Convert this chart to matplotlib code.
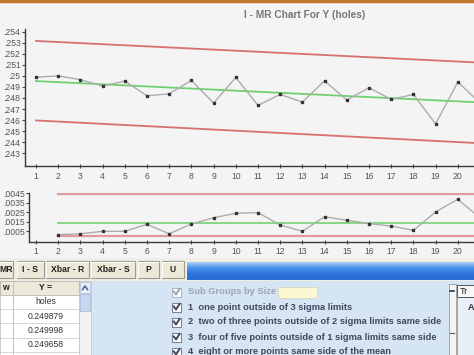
import matplotlib
matplotlib.use('Agg')
import matplotlib.pyplot as plt
import numpy as np
from matplotlib.patches import Rectangle
from matplotlib.ticker import FuncFormatter, FixedLocator
from matplotlib.colors import LinearSegmentedColormap

# ---------------- data ----------------
title = "I - MR Chart For Y (holes)"
samples = list(range(1, 22))
i_values = [0.249879, 0.249998, 0.249658, 0.24908, 0.24953, 0.24820, 0.24838,
            0.24959, 0.24754, 0.24986, 0.24733, 0.24832, 0.24763, 0.24956,
            0.24781, 0.24893, 0.24787, 0.24832, 0.24566, 0.24944, 0.24756]
mr_samples = list(range(2, 22))
mr_values = [0.00011, 0.00021, 0.00047, 0.00047, 0.00121, 0.00021, 0.00124,
             0.00191, 0.00238, 0.00245, 0.00114, 0.00047, 0.00202, 0.00164,
             0.00128, 0.00103, 0.00057, 0.00252, 0.00387, 0.00188]
i_limit_x = [1, 21]
i_ucl = [0.25316, 0.25120]
i_cl = [0.24953, 0.24760]
i_lcl = [0.24597, 0.24391]
mr_limit_x = [2, 21]
mr_ucl = [0.00446, 0.00446]
mr_cl = [0.00138, 0.00138]
mr_lcl = [0.0, 0.0]
i_yticks = [0.243, 0.244, 0.245, 0.246, 0.247, 0.248, 0.249, 0.25, 0.251, 0.252, 0.253, 0.254]
mr_yticks = [0.0005, 0.0015, 0.0025, 0.0035, 0.0045]
xticks = list(range(1, 21))

tab_labels = ["MR", "I - S", "Xbar - R", "Xbar - S", "P", "U"]
table_header = ["w", "Y ="]
table_rows = ["holes", "0.249879", "0.249998", "0.249658"]
rule_labels = ["Sub Groups by Size",
               "1  one point outside of 3 sigma limits",
               "2  two of three points outside of 2 sigma limits same side",
               "3  four of five points outside of 1 sigma limits same side",
               "4  eight or more points same side of the mean"]

# ---------------- figure ----------------
W, H = 474, 355
fig = plt.figure(figsize=(W / 100, H / 100), dpi=100)
FONT = 'Liberation Sans'

bg = fig.add_axes([0, 0, 1, 1], zorder=-1)
bg.set_xlim(0, W)
bg.set_ylim(H, 0)
bg.axis('off')


def rect(x0, y0, x1, y1, fc, ec='none', lw=0, z=1):
    bg.add_patch(Rectangle((x0, y0), x1 - x0, y1 - y0, facecolor=fc,
                           edgecolor=ec, linewidth=lw, zorder=z))


def txt(x, y, s, size=6, color='#333333', weight='normal', ha='left', z=5):
    bg.text(x, y, s, fontsize=size, color=color, fontweight=weight, ha=ha,
            va='center', family=FONT, zorder=z)


# chart background and top bar
rect(0, 0, W, 258, '#f4f4f4')
rect(0, 0, W, 3.2, '#c27a2c')
rect(0, 3.2, W, 4.5, '#ead8c4')

# title
txt(304.5, 15, title, size=7.3, color='#777777', weight='bold', ha='center')


def px_axes(x0, y0, x1, y1):
    return fig.add_axes([x0 / W, 1 - y1 / H, (x1 - x0) / W, (y1 - y0) / H])


fmt = FuncFormatter(lambda v, p: ('%g' % v).lstrip('0'))


def style(ax):
    ax.set_facecolor('none')
    for s in ['top', 'right']:
        ax.spines[s].set_visible(False)
    for s in ['left', 'bottom']:
        ax.spines[s].set_color('#3a3a3a')
        ax.spines[s].set_linewidth(1.0)
    ax.tick_params(axis='both', labelsize=6.2, colors='#444444', labelcolor='#555555',
                   length=2.2, width=0.8, pad=1)
    ax.tick_params(axis='x', direction='inout', length=3, pad=2.5)
    for lab in ax.get_xticklabels() + ax.get_yticklabels():
        lab.set_family(FONT)


# ----- I chart -----
ax1 = px_axes(25, 29, 474, 166)
ax1.plot(i_limit_x, i_ucl, color='#d77070', lw=1.3)
ax1.plot(i_limit_x, i_lcl, color='#d77070', lw=1.3)
ax1.plot(i_limit_x, i_cl, color='#6fd06f', lw=1.3)
ax1.plot(samples, i_values, color='#acacac', lw=1.0, marker='s', ms=2.0,
         mfc='#333333', mec='#333333')
ax1.set_xlim(0.505, 20.73)
ax1.set_ylim(0.24185, 0.25424)
ax1.yaxis.set_major_locator(FixedLocator(i_yticks))
ax1.yaxis.set_major_formatter(fmt)
ax1.xaxis.set_major_locator(FixedLocator(xticks))
style(ax1)

# ----- MR chart -----
ax2 = px_axes(29, 192.7, 474, 241.7)
ax2.plot(mr_limit_x, mr_ucl, color='#e39a9a', lw=1.6)
ax2.plot(mr_limit_x, mr_lcl, color='#e39a9a', lw=1.6)
ax2.plot(mr_limit_x, mr_cl, color='#7ed67e', lw=1.3)
ax2.plot(mr_samples, mr_values, color='#acacac', lw=1.0, marker='s', ms=2.0,
         mfc='#333333', mec='#333333')
ax2.set_xlim(0.685, 20.73)
ax2.set_ylim(-0.00063, 0.00456)
ax2.yaxis.set_major_locator(FixedLocator(mr_yticks))
ax2.yaxis.set_major_formatter(fmt)
ax2.xaxis.set_major_locator(FixedLocator(xticks))
style(ax2)

# ---------------- bottom UI ----------------
rect(0, 258, W, 281, '#eeede6')
# buttons
btn_x = [(-3, 13), (17, 44), (46, 89), (91, 135), (138, 159), (162, 184)]
for (x0, x1), lab in zip(btn_x, tab_labels):
    rect(x0, 261, x1, 278, '#ece9d8', ec='#9a9a8e', lw=0.8, z=2)
    bg.plot([x0 + 0.5, x0 + 0.5, x1 - 0.5], [277, 261.8, 261.8], color='white', lw=0.8, zorder=3)
    txt((x0 + x1) / 2 + (1.5 if lab == 'MR' else 0), 270, lab, size=6.2,
        color='#222222', weight='bold', ha='center')
# blue bar gradient
cmap = LinearSegmentedColormap.from_list('bb', ['#a9cdf6', '#4a90e8', '#2c74dc', '#2a6fd6'])
grad = np.linspace(0, 1, 40).reshape(-1, 1)
bg.imshow(grad, extent=[187, W, 280, 262], aspect='auto', cmap=cmap, zorder=2,
          interpolation='bilinear')
bg.set_xlim(0, W)
bg.set_ylim(H, 0)

# light blue panel
rect(0, 281, W, H, '#d5e5f3')
# table
rect(0, 281, 79, H, 'white', ec='#c8c8c8', lw=0.6, z=2)
rect(0, 281, 79, 295, '#ece9d8', ec='#b8b8b0', lw=0.6, z=3)
bg.plot([13, 13], [281, H], color='#c0c0c0', lw=0.7, zorder=4)
for yy in [309, 323, 338, 352]:
    bg.plot([0, 79], [yy, yy], color='#d0d0d0', lw=0.6, zorder=4)
txt(5, 288, table_header[0], size=6.2, color='#222222', weight='bold', ha='center')
txt(45.5, 288, table_header[1], size=6.2, color='#222222', weight='bold', ha='center')
for k, s in enumerate(table_rows):
    txt(45.5, 302 + k * 14.3, s, size=6.2, color='#333333', ha='center')
# table scrollbar
rect(79, 281, 91, H, '#f2f2f2', ec='#c8c8c8', lw=0.6, z=2)
rect(80, 282, 90, 293, '#e8eef8', ec='#b8c4d8', lw=0.6, z=3)
bg.plot([82.5, 85, 87.5], [289.5, 286, 289.5], color='#4a6a9a', lw=1.2, zorder=4)
rect(80, 294, 90, 311, '#c6d8f0', ec='#aabcd8', lw=0.6, z=3)

# rules checkboxes
rule_y = [292, 307, 322, 337, 352]
for k, (s, yy) in enumerate(zip(rule_labels, rule_y)):
    col = '#9aa6b2' if k == 0 else '#43465f'
    rect(172, yy - 4.5, 181, yy + 4.5, 'white', ec='#7a8598' if k else '#b0b8c4', lw=0.8, z=3)
    bg.plot([173.8, 176, 179.5], [yy - 0.5, yy + 2.5, yy - 3], color=col, lw=1.4, zorder=4)
    txt(188, yy, s, size=6.7, color=col, weight='bold')
rect(278, 287, 317, 298, '#fcf8d4', ec='#d8d8c0', lw=0.6, z=3)

# right side widgets
rect(449, 284, 456, H, '#f4f4f4', ec='#9a9a9a', lw=0.6, z=3)
bg.plot([450.5, 454.5], [291, 291], color='#333333', lw=1.2, zorder=4)
bg.plot([450.5, 454.5], [333, 333], color='#555555', lw=0.8, zorder=4)
rect(457, 285, W + 2, 297, '#f8f8f8', ec='#555555', lw=0.7, z=3)
rect(457, 297, W + 2, H, '#e9eff6', ec='#9aa0a8', lw=0.6, z=2)
txt(460, 291, "Tr", size=6.5, color='#222222')
txt(468, 307, "A", size=6.5, color='#333333', weight='bold')

fig.savefig('out.png', dpi=100)
